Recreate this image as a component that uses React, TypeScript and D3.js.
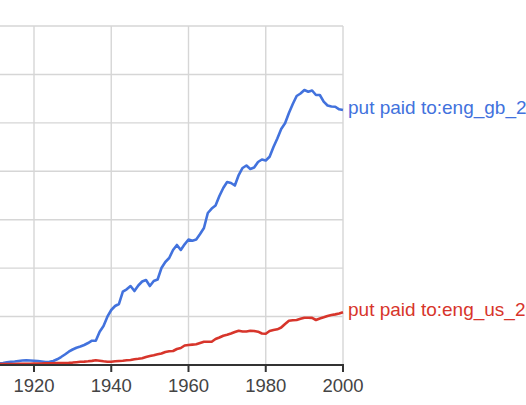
import * as React from "react"
import * as d3 from "d3"

// years shown (the left part of the original chart is cut off)
const years = d3.range(1910, 2001)

// "put paid to" in the British corpus, in grid units
const gbValues = [
  0.03, 0.035, 0.04, 0.056, 0.066, 0.072, 0.083, 0.093, 0.097, 0.093,
  0.089, 0.083, 0.072, 0.062, 0.066, 0.083, 0.118, 0.165, 0.217, 0.275,
  0.32, 0.357, 0.382, 0.413, 0.454, 0.502, 0.502, 0.688, 0.805, 0.997,
  1.136, 1.218, 1.26, 1.514, 1.563, 1.631, 1.528, 1.642, 1.724, 1.755,
  1.631, 1.734, 1.765, 2.003, 2.127, 2.209, 2.375, 2.478, 2.375, 2.492,
  2.591, 2.567, 2.591, 2.705, 2.829, 3.139, 3.231, 3.293, 3.49, 3.655,
  3.779, 3.758, 3.706, 3.923, 4.068, 4.12, 4.047, 4.078, 4.192, 4.243,
  4.223, 4.301, 4.501, 4.677, 4.873, 4.991, 5.203, 5.389, 5.554, 5.606,
  5.678, 5.643, 5.668, 5.575, 5.575, 5.437, 5.358, 5.338, 5.333, 5.28,
  5.265,
]

// "put paid to" in the American corpus, in grid units
const usValues = [
  0.015, 0.017, 0.02, 0.02, 0.022, 0.022, 0.024, 0.025, 0.026, 0.027,
  0.028, 0.03, 0.031, 0.033, 0.035, 0.037, 0.038, 0.04, 0.042, 0.045,
  0.05, 0.058, 0.066, 0.07, 0.076, 0.085, 0.097, 0.087, 0.076, 0.068,
  0.068, 0.078, 0.083, 0.087, 0.097, 0.103, 0.118, 0.128, 0.14, 0.165,
  0.186, 0.202, 0.221, 0.238, 0.268, 0.283, 0.289, 0.33, 0.351, 0.403,
  0.413, 0.421, 0.427, 0.454, 0.479, 0.481, 0.481, 0.537, 0.568, 0.605,
  0.624, 0.65, 0.681, 0.708, 0.692, 0.692, 0.708, 0.702, 0.688, 0.65,
  0.644, 0.702, 0.723, 0.737, 0.774, 0.847, 0.913, 0.923, 0.929, 0.954,
  0.977, 0.977, 0.973, 0.929, 0.96, 0.985, 1.012, 1.032, 1.045, 1.063,
  1.088,
]

const seriesNames = ["put paid to:eng_gb_2012", "put paid to:eng_us_2012"]
const seriesColors = ["#4272dd", "#d7352b"]
const xTicks = [1920, 1940, 1960, 1980, 2000]
const yGrid = [1, 2, 3, 4, 5, 6, 7]

const width = 526
const height = 405

export default function App() {
  const x = d3.scaleLinear().domain([1920, 2000]).range([34, 343])
  const y = d3.scaleLinear().domain([0, 7]).range([365, 26])

  const line = d3
    .line<number>()
    .x((_, i) => x(years[i]))
    .y((d) => y(d))

  const series = [gbValues, usValues]
  const [x0, x1] = [0, x(2000)]

  return (
    <svg
      width={width}
      height={height}
      style={{ position: "absolute", left: 0, top: 0, background: "#fff" }}
      fontFamily="Arial, 'Liberation Sans', sans-serif"
    >
      {/* grid */}
      {yGrid.map((v) => (
        <line key={v} x1={x0} x2={x1} y1={y(v)} y2={y(v)} stroke="#d6d6d6" strokeWidth={1.4} />
      ))}
      {xTicks.map((t) => (
        <line key={t} x1={x(t)} x2={x(t)} y1={y(7)} y2={y(0)} stroke="#d6d6d6" strokeWidth={1.4} />
      ))}

      {/* lines */}
      {series.map((vals, i) => (
        <path
          key={i}
          d={line(vals) || ""}
          fill="none"
          stroke={seriesColors[i]}
          strokeWidth={2.6}
          strokeLinejoin="round"
        />
      ))}

      {/* x axis */}
      <line x1={x0} x2={x1 + 1} y1={y(0)} y2={y(0)} stroke="#333" strokeWidth={2.2} />
      {xTicks.map((t) => (
        <g key={t}>
          <line x1={x(t)} x2={x(t)} y1={y(0)} y2={y(0) + 7} stroke="#333" strokeWidth={2} />
          <text x={x(t)} y={392} textAnchor="middle" fontSize={18.5} fill="#444">
            {t}
          </text>
        </g>
      ))}

      {/* series labels */}
      {series.map((vals, i) => (
        <text
          key={i}
          x={x(2000) + 5}
          y={y(vals[vals.length - 1]) + 3.5}
          fontSize={19}
          fill={seriesColors[i]}
        >
          {seriesNames[i]}
        </text>
      ))}
    </svg>
  )
}
